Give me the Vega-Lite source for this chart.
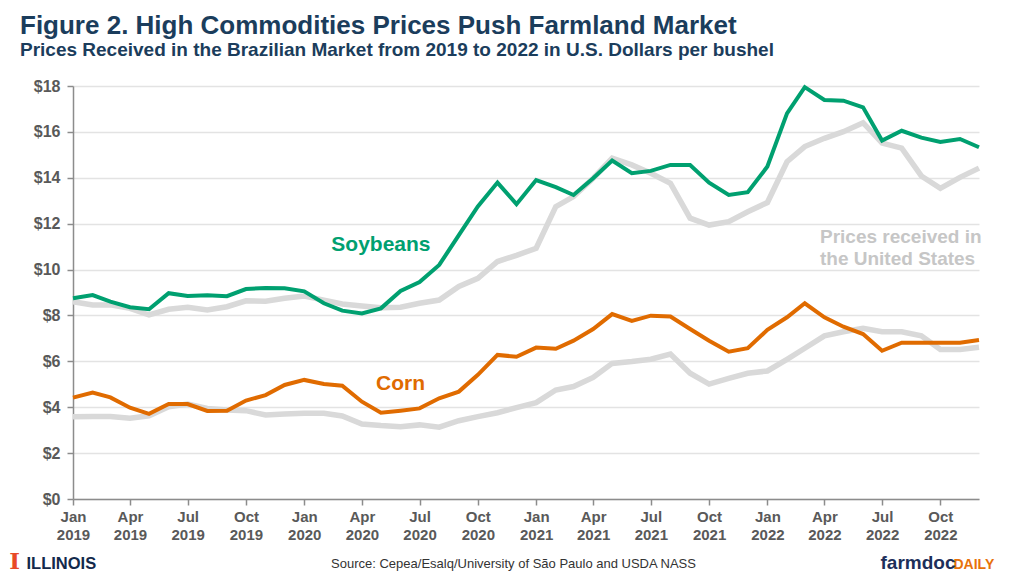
{
  "$schema": "https://vega.github.io/schema/vega-lite/v6.json",
  "width": 906,
  "height": 413,
  "autosize": {"type": "none"},
  "padding": {"left": 73, "top": 86, "right": 45, "bottom": 77},
  "background": "white",
  "config": {"view": {"stroke": null}, "font": "Liberation Sans"},
  "title": {
    "text": "Figure 2. High Commodities Prices Push Farmland Market",
    "subtitle": "Prices Received in the Brazilian Market from 2019 to 2022 in U.S. Dollars per bushel",
    "anchor": "start", "frame": "group", "dx": -53, "offset": 18,
    "font": "Liberation Sans", "fontSize": 26, "fontWeight": "bold", "color": "#1b3d5c",
    "subtitleFont": "Liberation Sans", "subtitleFontSize": 19, "subtitleFontWeight": "bold", "subtitleColor": "#1b3d5c", "subtitlePadding": 2
  },
  "datasets": {
    "us": [
      {"month":"2019-01-01","crop":"Soybeans","price":8.60},{"month":"2019-02-01","crop":"Soybeans","price":8.46},{"month":"2019-03-01","crop":"Soybeans","price":8.46},{"month":"2019-04-01","crop":"Soybeans","price":8.31},{"month":"2019-05-01","crop":"Soybeans","price":8.02},{"month":"2019-06-01","crop":"Soybeans","price":8.27},{"month":"2019-07-01","crop":"Soybeans","price":8.36},{"month":"2019-08-01","crop":"Soybeans","price":8.24},{"month":"2019-09-01","crop":"Soybeans","price":8.38},{"month":"2019-10-01","crop":"Soybeans","price":8.64},{"month":"2019-11-01","crop":"Soybeans","price":8.62},{"month":"2019-12-01","crop":"Soybeans","price":8.75},
      {"month":"2020-01-01","crop":"Soybeans","price":8.85},{"month":"2020-02-01","crop":"Soybeans","price":8.67},{"month":"2020-03-01","crop":"Soybeans","price":8.50},{"month":"2020-04-01","crop":"Soybeans","price":8.41},{"month":"2020-05-01","crop":"Soybeans","price":8.34},{"month":"2020-06-01","crop":"Soybeans","price":8.36},{"month":"2020-07-01","crop":"Soybeans","price":8.53},{"month":"2020-08-01","crop":"Soybeans","price":8.67},{"month":"2020-09-01","crop":"Soybeans","price":9.26},{"month":"2020-10-01","crop":"Soybeans","price":9.62},{"month":"2020-11-01","crop":"Soybeans","price":10.35},{"month":"2020-12-01","crop":"Soybeans","price":10.62},
      {"month":"2021-01-01","crop":"Soybeans","price":10.93},{"month":"2021-02-01","crop":"Soybeans","price":12.74},{"month":"2021-03-01","crop":"Soybeans","price":13.18},{"month":"2021-04-01","crop":"Soybeans","price":13.98},{"month":"2021-05-01","crop":"Soybeans","price":14.85},{"month":"2021-06-01","crop":"Soybeans","price":14.56},{"month":"2021-07-01","crop":"Soybeans","price":14.20},{"month":"2021-08-01","crop":"Soybeans","price":13.76},{"month":"2021-09-01","crop":"Soybeans","price":12.24},{"month":"2021-10-01","crop":"Soybeans","price":11.94},{"month":"2021-11-01","crop":"Soybeans","price":12.09},{"month":"2021-12-01","crop":"Soybeans","price":12.52},
      {"month":"2022-01-01","crop":"Soybeans","price":12.92},{"month":"2022-02-01","crop":"Soybeans","price":14.70},{"month":"2022-03-01","crop":"Soybeans","price":15.36},{"month":"2022-04-01","crop":"Soybeans","price":15.72},{"month":"2022-05-01","crop":"Soybeans","price":16.01},{"month":"2022-06-01","crop":"Soybeans","price":16.40},{"month":"2022-07-01","crop":"Soybeans","price":15.51},{"month":"2022-08-01","crop":"Soybeans","price":15.29},{"month":"2022-09-01","crop":"Soybeans","price":14.08},{"month":"2022-10-01","crop":"Soybeans","price":13.54},{"month":"2022-11-01","crop":"Soybeans","price":14.02},{"month":"2022-12-01","crop":"Soybeans","price":14.42},
      {"month":"2019-01-01","crop":"Corn","price":3.59},{"month":"2019-02-01","crop":"Corn","price":3.60},{"month":"2019-03-01","crop":"Corn","price":3.60},{"month":"2019-04-01","crop":"Corn","price":3.52},{"month":"2019-05-01","crop":"Corn","price":3.63},{"month":"2019-06-01","crop":"Corn","price":4.02},{"month":"2019-07-01","crop":"Corn","price":4.14},{"month":"2019-08-01","crop":"Corn","price":3.95},{"month":"2019-09-01","crop":"Corn","price":3.88},{"month":"2019-10-01","crop":"Corn","price":3.85},{"month":"2019-11-01","crop":"Corn","price":3.66},{"month":"2019-12-01","crop":"Corn","price":3.70},
      {"month":"2020-01-01","crop":"Corn","price":3.74},{"month":"2020-02-01","crop":"Corn","price":3.74},{"month":"2020-03-01","crop":"Corn","price":3.62},{"month":"2020-04-01","crop":"Corn","price":3.27},{"month":"2020-05-01","crop":"Corn","price":3.20},{"month":"2020-06-01","crop":"Corn","price":3.15},{"month":"2020-07-01","crop":"Corn","price":3.23},{"month":"2020-08-01","crop":"Corn","price":3.13},{"month":"2020-09-01","crop":"Corn","price":3.41},{"month":"2020-10-01","crop":"Corn","price":3.59},{"month":"2020-11-01","crop":"Corn","price":3.76},{"month":"2020-12-01","crop":"Corn","price":3.98},
      {"month":"2021-01-01","crop":"Corn","price":4.20},{"month":"2021-02-01","crop":"Corn","price":4.75},{"month":"2021-03-01","crop":"Corn","price":4.90},{"month":"2021-04-01","crop":"Corn","price":5.30},{"month":"2021-05-01","crop":"Corn","price":5.91},{"month":"2021-06-01","crop":"Corn","price":5.99},{"month":"2021-07-01","crop":"Corn","price":6.09},{"month":"2021-08-01","crop":"Corn","price":6.32},{"month":"2021-09-01","crop":"Corn","price":5.48},{"month":"2021-10-01","crop":"Corn","price":5.01},{"month":"2021-11-01","crop":"Corn","price":5.26},{"month":"2021-12-01","crop":"Corn","price":5.48},
      {"month":"2022-01-01","crop":"Corn","price":5.58},{"month":"2022-02-01","crop":"Corn","price":6.09},{"month":"2022-03-01","crop":"Corn","price":6.57},{"month":"2022-04-01","crop":"Corn","price":7.11},{"month":"2022-05-01","crop":"Corn","price":7.29},{"month":"2022-06-01","crop":"Corn","price":7.44},{"month":"2022-07-01","crop":"Corn","price":7.29},{"month":"2022-08-01","crop":"Corn","price":7.29},{"month":"2022-09-01","crop":"Corn","price":7.11},{"month":"2022-10-01","crop":"Corn","price":6.52},{"month":"2022-11-01","crop":"Corn","price":6.52},{"month":"2022-12-01","crop":"Corn","price":6.61}
    ],
    "brazil": [
      {"month":"2019-01-01","crop":"Soybeans","price":8.75},{"month":"2019-02-01","crop":"Soybeans","price":8.89},{"month":"2019-03-01","crop":"Soybeans","price":8.60},{"month":"2019-04-01","crop":"Soybeans","price":8.36},{"month":"2019-05-01","crop":"Soybeans","price":8.27},{"month":"2019-06-01","crop":"Soybeans","price":8.97},{"month":"2019-07-01","crop":"Soybeans","price":8.85},{"month":"2019-08-01","crop":"Soybeans","price":8.88},{"month":"2019-09-01","crop":"Soybeans","price":8.84},{"month":"2019-10-01","crop":"Soybeans","price":9.15},{"month":"2019-11-01","crop":"Soybeans","price":9.20},{"month":"2019-12-01","crop":"Soybeans","price":9.18},
      {"month":"2020-01-01","crop":"Soybeans","price":9.05},{"month":"2020-02-01","crop":"Soybeans","price":8.53},{"month":"2020-03-01","crop":"Soybeans","price":8.21},{"month":"2020-04-01","crop":"Soybeans","price":8.09},{"month":"2020-05-01","crop":"Soybeans","price":8.31},{"month":"2020-06-01","crop":"Soybeans","price":9.07},{"month":"2020-07-01","crop":"Soybeans","price":9.46},{"month":"2020-08-01","crop":"Soybeans","price":10.20},{"month":"2020-09-01","crop":"Soybeans","price":11.50},{"month":"2020-10-01","crop":"Soybeans","price":12.75},{"month":"2020-11-01","crop":"Soybeans","price":13.79},{"month":"2020-12-01","crop":"Soybeans","price":12.85},
      {"month":"2021-01-01","crop":"Soybeans","price":13.90},{"month":"2021-02-01","crop":"Soybeans","price":13.59},{"month":"2021-03-01","crop":"Soybeans","price":13.25},{"month":"2021-04-01","crop":"Soybeans","price":13.98},{"month":"2021-05-01","crop":"Soybeans","price":14.75},{"month":"2021-06-01","crop":"Soybeans","price":14.20},{"month":"2021-07-01","crop":"Soybeans","price":14.30},{"month":"2021-08-01","crop":"Soybeans","price":14.56},{"month":"2021-09-01","crop":"Soybeans","price":14.56},{"month":"2021-10-01","crop":"Soybeans","price":13.79},{"month":"2021-11-01","crop":"Soybeans","price":13.25},{"month":"2021-12-01","crop":"Soybeans","price":13.37},
      {"month":"2022-01-01","crop":"Soybeans","price":14.49},{"month":"2022-02-01","crop":"Soybeans","price":16.81},{"month":"2022-03-01","crop":"Soybeans","price":17.95},{"month":"2022-04-01","crop":"Soybeans","price":17.39},{"month":"2022-05-01","crop":"Soybeans","price":17.36},{"month":"2022-06-01","crop":"Soybeans","price":17.07},{"month":"2022-07-01","crop":"Soybeans","price":15.62},{"month":"2022-08-01","crop":"Soybeans","price":16.05},{"month":"2022-09-01","crop":"Soybeans","price":15.75},{"month":"2022-10-01","crop":"Soybeans","price":15.56},{"month":"2022-11-01","crop":"Soybeans","price":15.69},{"month":"2022-12-01","crop":"Soybeans","price":15.33},
      {"month":"2019-01-01","crop":"Corn","price":4.42},{"month":"2019-02-01","crop":"Corn","price":4.64},{"month":"2019-03-01","crop":"Corn","price":4.43},{"month":"2019-04-01","crop":"Corn","price":3.98},{"month":"2019-05-01","crop":"Corn","price":3.71},{"month":"2019-06-01","crop":"Corn","price":4.14},{"month":"2019-07-01","crop":"Corn","price":4.14},{"month":"2019-08-01","crop":"Corn","price":3.84},{"month":"2019-09-01","crop":"Corn","price":3.85},{"month":"2019-10-01","crop":"Corn","price":4.29},{"month":"2019-11-01","crop":"Corn","price":4.53},{"month":"2019-12-01","crop":"Corn","price":4.97},
      {"month":"2020-01-01","crop":"Corn","price":5.19},{"month":"2020-02-01","crop":"Corn","price":5.01},{"month":"2020-03-01","crop":"Corn","price":4.94},{"month":"2020-04-01","crop":"Corn","price":4.24},{"month":"2020-05-01","crop":"Corn","price":3.76},{"month":"2020-06-01","crop":"Corn","price":3.85},{"month":"2020-07-01","crop":"Corn","price":3.95},{"month":"2020-08-01","crop":"Corn","price":4.39},{"month":"2020-09-01","crop":"Corn","price":4.68},{"month":"2020-10-01","crop":"Corn","price":5.41},{"month":"2020-11-01","crop":"Corn","price":6.28},{"month":"2020-12-01","crop":"Corn","price":6.20},
      {"month":"2021-01-01","crop":"Corn","price":6.60},{"month":"2021-02-01","crop":"Corn","price":6.55},{"month":"2021-03-01","crop":"Corn","price":6.90},{"month":"2021-04-01","crop":"Corn","price":7.41},{"month":"2021-05-01","crop":"Corn","price":8.06},{"month":"2021-06-01","crop":"Corn","price":7.76},{"month":"2021-07-01","crop":"Corn","price":7.99},{"month":"2021-08-01","crop":"Corn","price":7.95},{"month":"2021-09-01","crop":"Corn","price":7.41},{"month":"2021-10-01","crop":"Corn","price":6.90},{"month":"2021-11-01","crop":"Corn","price":6.42},{"month":"2021-12-01","crop":"Corn","price":6.57},
      {"month":"2022-01-01","crop":"Corn","price":7.37},{"month":"2022-02-01","crop":"Corn","price":7.92},{"month":"2022-03-01","crop":"Corn","price":8.53},{"month":"2022-04-01","crop":"Corn","price":7.92},{"month":"2022-05-01","crop":"Corn","price":7.51},{"month":"2022-06-01","crop":"Corn","price":7.19},{"month":"2022-07-01","crop":"Corn","price":6.46},{"month":"2022-08-01","crop":"Corn","price":6.81},{"month":"2022-09-01","crop":"Corn","price":6.81},{"month":"2022-10-01","crop":"Corn","price":6.81},{"month":"2022-11-01","crop":"Corn","price":6.81},{"month":"2022-12-01","crop":"Corn","price":6.93}
    ]
  },
  "resolve": {"axis": {"x": "independent", "y": "independent"}},
  "layer": [
    {
      "data": {"name": "us"},
      "mark": {"type": "line", "color": "#d9d9d9", "strokeWidth": 5.5},
      "encoding": {
        "x": {
          "field": "month", "type": "temporal",
          "scale": {"type": "utc", "domain": [{"year": 2019, "month": 1, "date": 1, "utc": true}, {"year": 2022, "month": 12, "date": 1, "utc": true}]},
          "axis": {
            "orient": "bottom",
            "values": [
              {"year":2019,"month":1,"date":1,"utc":true},{"year":2019,"month":4,"date":1,"utc":true},{"year":2019,"month":7,"date":1,"utc":true},{"year":2019,"month":10,"date":1,"utc":true},
              {"year":2020,"month":1,"date":1,"utc":true},{"year":2020,"month":4,"date":1,"utc":true},{"year":2020,"month":7,"date":1,"utc":true},{"year":2020,"month":10,"date":1,"utc":true},
              {"year":2021,"month":1,"date":1,"utc":true},{"year":2021,"month":4,"date":1,"utc":true},{"year":2021,"month":7,"date":1,"utc":true},{"year":2021,"month":10,"date":1,"utc":true},
              {"year":2022,"month":1,"date":1,"utc":true},{"year":2022,"month":4,"date":1,"utc":true},{"year":2022,"month":7,"date":1,"utc":true},{"year":2022,"month":10,"date":1,"utc":true}
            ],
            "labelExpr": "[utcFormat(datum.value, '%b'), utcFormat(datum.value, '%Y')]",
            "labelFont": "Liberation Sans", "labelFontSize": 15, "labelFontWeight": "bold", "labelColor": "#595959",
            "labelLineHeight": 18, "labelPadding": 4, "labelOverlap": false, "labelFlush": false,
            "grid": false, "domainColor": "#8c8c8c", "domainWidth": 1.5, "tickColor": "#8c8c8c", "tickWidth": 1.5, "tickSize": 6,
            "title": "Source: Cepea/Esalq/University of São Paulo and USDA NASS",
            "titleFont": "Liberation Sans", "titleFontSize": 13, "titleFontWeight": "normal", "titleColor": "#333333",
            "titleX": 440, "titleY": 64, "titleAlign": "center", "titleBaseline": "middle"
          }
        },
        "y": {
          "field": "price", "type": "quantitative",
          "scale": {"domain": [0, 18], "nice": false},
          "axis": {
            "orient": "left",
            "values": [0, 2, 4, 6, 8, 10, 12, 14, 16, 18],
            "labelExpr": "'$' + datum.value",
            "labelFont": "Liberation Sans", "labelFontSize": 16, "labelFontWeight": "bold", "labelColor": "#595959", "labelPadding": 7,
            "grid": true, "gridColor": "#e3e3e3", "gridWidth": 1.5,
            "domainColor": "#8c8c8c", "domainWidth": 1.5, "tickColor": "#8c8c8c", "tickWidth": 1.5, "tickSize": 6,
            "title": "ILLINOIS", "titleAngle": 0, "titleX": -47, "titleY": 477, "titleAlign": "left", "titleBaseline": "middle",
            "titleFont": "Liberation Sans", "titleFontSize": 16.5, "titleFontWeight": "bold", "titleColor": "#13294b"
          }
        },
        "detail": {"field": "crop"}
      }
    },
    {
      "data": {"name": "brazil"},
      "mark": {"type": "line", "strokeWidth": 4},
      "encoding": {
        "x": {
          "field": "month", "type": "temporal",
          "axis": {
            "orient": "top", "labels": false, "ticks": false, "domain": false, "grid": false,
            "title": "DAILY", "titleX": 880, "titleY": 478, "titleAlign": "left", "titleBaseline": "middle",
            "titleFont": "Liberation Sans", "titleFontSize": 14, "titleFontWeight": "bold", "titleColor": "#e8710a"
          }
        },
        "y": {
          "field": "price", "type": "quantitative",
          "axis": {
            "orient": "right", "labels": false, "ticks": false, "domain": false, "grid": false,
            "title": "farmdoc", "titleAngle": 0, "titleX": -99, "titleY": 476, "titleAlign": "left", "titleBaseline": "middle",
            "titleFont": "Liberation Sans", "titleFontSize": 19, "titleFontWeight": "bold", "titleColor": "#1d2f5a"
          }
        },
        "color": {
          "field": "crop", "type": "nominal",
          "scale": {"domain": ["Soybeans", "Corn"], "range": ["#00a070", "#e06b00"]},
          "legend": null
        }
      }
    },
    {
      "data": {"values": [{}]},
      "mark": {"type": "text", "text": "Soybeans", "font": "Liberation Sans", "fontSize": 21, "fontWeight": "bold", "color": "#00a070", "align": "center", "baseline": "middle"},
      "encoding": {
        "x": {"datum": {"year": 2020, "month": 5, "date": 1, "utc": true}, "type": "temporal", "axis": null},
        "y": {"datum": 11.07, "type": "quantitative", "axis": null}
      }
    },
    {
      "data": {"values": [{}]},
      "mark": {"type": "text", "text": "Corn", "font": "Liberation Sans", "fontSize": 21, "fontWeight": "bold", "color": "#e06b00", "align": "center", "baseline": "middle"},
      "encoding": {
        "x": {"datum": {"year": 2020, "month": 6, "date": 1, "utc": true}, "type": "temporal", "axis": null},
        "y": {"datum": 5.01, "type": "quantitative", "axis": null}
      }
    },
    {
      "data": {"values": [{}]},
      "mark": {"type": "text", "text": ["Prices received in", "the United States"], "lineHeight": 22, "font": "Liberation Sans", "fontSize": 19, "fontWeight": "bold", "color": "#c6c6c6", "align": "left", "baseline": "middle"},
      "encoding": {
        "x": {"datum": {"year": 2022, "month": 3, "date": 25, "utc": true}, "type": "temporal", "axis": null},
        "y": {"datum": 11.43, "type": "quantitative", "axis": null}
      }
    },
    {
      "data": {"values": [{}]},
      "mark": {"type": "text", "text": "I", "font": "DejaVu Serif", "fontSize": 23, "fontWeight": "bold", "color": "#e84a27", "align": "center", "baseline": "middle"},
      "encoding": {
        "x": {"datum": {"year": 2018, "month": 10, "date": 1, "utc": true}, "type": "temporal", "axis": null},
        "y": {"datum": -2.76, "type": "quantitative", "axis": null}
      }
    }
  ]
}
